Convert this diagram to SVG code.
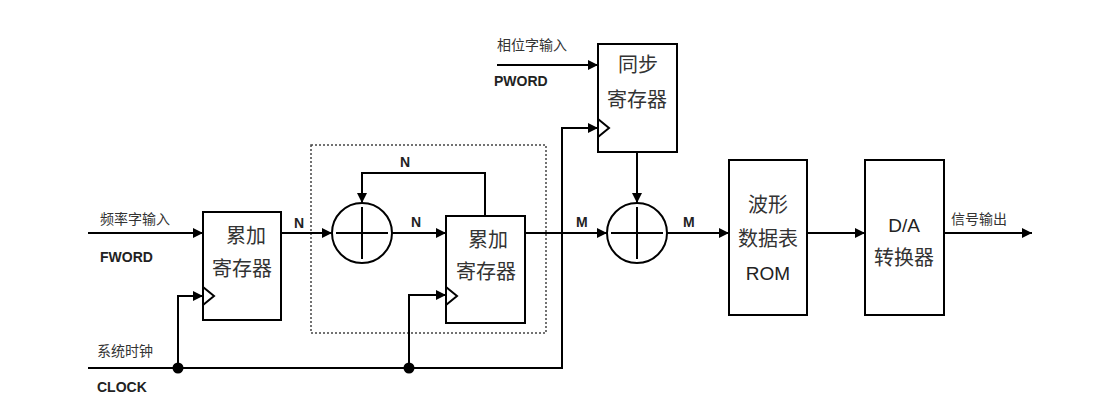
<svg xmlns="http://www.w3.org/2000/svg" width="1105" height="419" viewBox="0 0 1105 419">
<defs>
<marker id="ar" viewBox="0 0 10 10" refX="10" refY="5" markerWidth="10" markerHeight="10" markerUnits="userSpaceOnUse" orient="auto"><path d="M0,0L10,5L0,10z" fill="#000"/></marker>
<style>
.b{fill:#fff;stroke:#000;stroke-width:2}
.l{fill:none;stroke:#000;stroke-width:2}
.c{font-family:"Noto Sans CJK SC",sans-serif;font-size:20px;fill:#333}
.s{font-family:"Noto Sans CJK SC",sans-serif;font-size:14px;fill:#333}
.e{font-family:"Liberation Sans",sans-serif;font-size:14px;font-weight:bold;fill:#222}
.m{font-family:"Liberation Sans",sans-serif;font-size:19px;fill:#222}
</style>
</defs>
<rect width="1105" height="419" fill="#fff"/>
<rect x="311" y="145" width="235" height="188" fill="none" stroke="#444" stroke-width="1.5" stroke-dasharray="2,2"/>
<g id="connectors" class="l">
<path d="M88,233H203" marker-end="url(#ar)"/>
<path d="M281,233H332" marker-end="url(#ar)"/>
<path d="M392,233H446" marker-end="url(#ar)"/>
<path d="M485,216V173H362V203" marker-end="url(#ar)"/>
<path d="M525,233H607" marker-end="url(#ar)"/>
<path d="M497,65H598" marker-end="url(#ar)"/>
<path d="M637,152V203" marker-end="url(#ar)"/>
<path d="M667,233H729" marker-end="url(#ar)"/>
<path d="M807,233H865" marker-end="url(#ar)"/>
<path d="M944,233H1032" marker-end="url(#ar)"/>
<path d="M88,368H562V128H598" marker-end="url(#ar)"/>
<path d="M178,368V296H203" marker-end="url(#ar)"/>
<path d="M409,368V295H446" marker-end="url(#ar)"/>
<circle cx="178" cy="368" r="4.5" fill="#000"/>
<circle cx="409" cy="368" r="4.5" fill="#000"/>
</g>
<g id="reg1"><rect class="b" x="203" y="212" width="78" height="108"/><path class="l" d="M203,287L214,296L203,305"/>
<text class="c" x="246" y="243" text-anchor="middle">累加</text><text class="c" x="242" y="276" text-anchor="middle">寄存器</text></g>
<g id="add1"><circle class="b" cx="362" cy="233" r="30"/><path class="l" d="M362,207V259M336,233H388"/></g>
<g id="reg2"><rect class="b" x="446" y="216" width="79" height="107"/><path class="l" d="M446,287L457,296L446,305"/>
<text class="c" x="488" y="247" text-anchor="middle">累加</text><text class="c" x="486" y="279" text-anchor="middle">寄存器</text></g>
<g id="sync"><rect class="b" x="598" y="44" width="79" height="108"/><path class="l" d="M598,119L609,128L598,137"/>
<text class="c" x="638" y="72" text-anchor="middle">同步</text><text class="c" x="637" y="107" text-anchor="middle">寄存器</text></g>
<g id="add2"><circle class="b" cx="637" cy="233" r="30"/><path class="l" d="M637,207V259M611,233H663"/></g>
<g id="rom"><rect class="b" x="729" y="160" width="78" height="155"/>
<text class="c" x="768" y="212" text-anchor="middle">波形</text><text class="c" x="768" y="246" text-anchor="middle">数据表</text><text class="m" x="768" y="280" text-anchor="middle">ROM</text></g>
<g id="da"><rect class="b" x="865" y="160" width="79" height="155"/>
<text class="m" x="904" y="232" text-anchor="middle">D/A</text><text class="c" x="904" y="265" text-anchor="middle">转换器</text></g>
<g id="labels">
<text class="s" x="100" y="224">频率字输入</text><text class="e" x="100" y="262">FWORD</text>
<text class="s" x="97" y="356">系统时钟</text><text class="e" x="97" y="392">CLOCK</text>
<text class="s" x="497" y="50">相位字输入</text><text class="e" x="494" y="86">PWORD</text>
<text class="s" x="951" y="224">信号输出</text>
<text class="e" x="294" y="228">N</text><text class="e" x="411" y="227">N</text><text class="e" x="400" y="167">N</text>
<text class="e" x="576" y="227">M</text><text class="e" x="683" y="227">M</text>
</g>
</svg>
